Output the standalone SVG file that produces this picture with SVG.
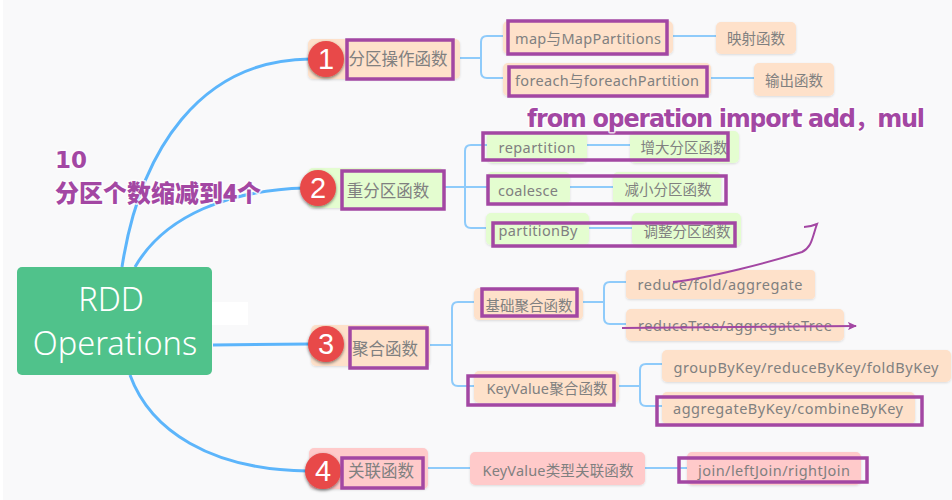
<svg xmlns="http://www.w3.org/2000/svg" width="952" height="500" viewBox="0 0 952 500">
<style>
text{font-family:"Noto Sans","Noto Sans CJK SC",sans-serif}
.l{fill:none;stroke:#8fcbfa;stroke-width:2}
.t{fill:none;stroke:#5cb5fb;stroke-width:3}
.o{fill:#fee1ca;filter:url(#s)}
.g{fill:#e4fdd0;filter:url(#s)}
.p{fill:#ffcaca;filter:url(#s)}
.n{fill:none;stroke:#a347a3;stroke-width:3.5}
.x{fill:#808080;font-size:14.5px;text-anchor:middle}
.b{fill:#808080;font-size:16.5px;text-anchor:middle}
.c{fill:#e84848;filter:url(#d)}
.d{fill:#fff;font-family:"Liberation Sans",sans-serif;font-size:29px;text-anchor:middle}
.v{fill:#a347a3;font-weight:900;stroke:#fff;stroke-opacity:.8;stroke-width:3px;paint-order:stroke;stroke-linejoin:round}
.w{font-family:"DejaVu Sans","Noto Sans CJK SC",sans-serif;font-weight:700}
.r{fill:#fff;font-size:32.5px;font-weight:300;text-anchor:middle}
</style>
<defs>
<filter id="s" x="-10%" y="-20%" width="120%" height="140%"><feDropShadow dx="0" dy="1" stdDeviation="1" flood-color="#000" flood-opacity=".12"/></filter>
<filter id="d" x="-30%" y="-30%" width="160%" height="160%"><feDropShadow dx="0" dy="1.5" stdDeviation="1.5" flood-color="#000" flood-opacity=".5"/></filter>
<marker id="a" markerWidth="10" markerHeight="8" refX="8" refY="4" orient="auto" markerUnits="userSpaceOnUse"><path d="M0 0L9 4L0 8L2 4Z" fill="#a347a3"/></marker>
</defs>
<rect width="952" height="500" fill="#f9f9fa"/>
<rect width="3" height="500" fill="#fff"/>
<rect x="212" y="302" width="36" height="23" fill="#fff"/>
<g id="connectors">
<path class="t" d="M122 267C140 150 200 60 310 59"/>
<path class="t" d="M135 267C165 215 230 190 305 188"/>
<path class="t" d="M213 345L310 344"/>
<path class="t" d="M130 375C150 430 210 470 308 471"/>
<path class="l" d="M460 58H481M503 36H487Q481 36 481 42V72Q481 78 487 78H503"/>
<path class="l" d="M673 36H716M711 78H754"/>
<path class="l" d="M444 187H487M487 145H471Q465 145 465 151V222Q465 228 471 228H487"/>
<path class="l" d="M587 145H630M570 187H613M589 228H632"/>
<path class="l" d="M430 345H452M474 302H458Q452 302 452 308V380Q452 386 458 386H474"/>
<path class="l" d="M583 302H604M626 282H610Q604 282 604 288V318Q604 324 610 324H626"/>
<path class="l" d="M619 386H640M662 364H646Q640 364 640 370V400Q640 406 646 406H662"/>
<path class="l" d="M428 468H470M645 468H687"/>
</g>
<g id="root"><rect x="17" y="267" width="195" height="108" rx="5" fill="#50c28b"/><text class="r" x="111" y="311">RDD</text><text class="r" x="115" y="355">Operations</text></g>
<g id="n1"><rect class="o" x="308" y="39" width="152" height="40" rx="5"/><text class="b" x="398" y="65">分区操作函数</text><circle class="c" cx="326" cy="59" r="18"/><text class="d" x="326" y="69">1</text></g>
<g id="n1a"><rect class="o" x="503" y="21" width="170" height="33" rx="5"/><text class="x" x="588" y="44" textLength="146">map与MapPartitions</text></g>
<g id="n1a1"><rect class="o" x="716" y="22" width="80" height="32" rx="5"/><text class="x" x="756" y="44">映射函数</text></g>
<g id="n1b"><rect class="o" x="503" y="63" width="208" height="33" rx="5"/><text class="x" x="607" y="86" textLength="184">foreach与foreachPartition</text></g>
<g id="n1b1"><rect class="o" x="754" y="63" width="80" height="33" rx="5"/><text class="x" x="794" y="86">输出函数</text></g>
<g id="n2"><rect class="g" x="308" y="168" width="136" height="40" rx="5"/><text class="b" x="388" y="197">重分区函数</text><circle class="c" cx="318" cy="188" r="18"/><text class="d" x="318" y="198">2</text></g>
<g id="n2a"><rect class="g" x="487" y="132" width="100" height="31" rx="5"/><text class="x" x="537" y="153" textLength="77">repartition</text></g>
<g id="n2a1"><rect class="g" x="630" y="131" width="109" height="32" rx="5"/><text class="x" x="684" y="153">增大分区函数</text></g>
<g id="n2b"><rect class="g" x="487" y="172" width="83" height="32" rx="5"/><text class="x" x="528" y="196" textLength="60">coalesce</text></g>
<g id="n2b1"><rect class="g" x="613" y="172" width="108" height="32" rx="5"/><text class="x" x="668" y="195">减小分区函数</text></g>
<g id="n2c"><rect class="g" x="486" y="213" width="103" height="32" rx="5"/><text class="x" x="538" y="236" textLength="79">partitionBy</text></g>
<g id="n2c1"><rect class="g" x="632" y="213" width="109" height="33" rx="5"/><text class="x" x="687" y="237">调整分区函数</text></g>
<g id="n3"><rect class="o" x="311" y="325" width="119" height="41" rx="5"/><text class="b" x="385" y="355">聚合函数</text><circle class="c" cx="326" cy="344" r="18"/><text class="d" x="326" y="354">3</text></g>
<g id="n3a"><rect class="o" x="474" y="288" width="109" height="32" rx="5"/><text class="x" x="529" y="311">基础聚合函数</text></g>
<g id="n3a1"><rect class="o" x="626" y="270" width="189" height="29" rx="4"/><text class="x" x="720" y="290" textLength="165">reduce/fold/aggregate</text></g>
<g id="n3a2"><rect class="o" x="626" y="309" width="218" height="32" rx="5"/><text class="x" x="735" y="331" textLength="194">reduceTree/aggregateTree</text></g>
<g id="n3b"><rect class="o" x="474" y="371" width="145" height="32" rx="5"/><text class="x" x="547" y="394" textLength="121">KeyValue聚合函数</text></g>
<g id="n3b1"><rect class="o" x="662" y="350" width="289" height="32" rx="5"/><text class="x" x="806" y="373" textLength="265">groupByKey/reduceByKey/foldByKey</text></g>
<g id="n3b2"><rect class="o" x="662" y="392" width="253" height="32" rx="5"/><text class="x" x="788" y="414" textLength="230">aggregateByKey/combineByKey</text></g>
<g id="n4"><rect class="p" x="309" y="448" width="119" height="41" rx="5"/><text class="b" x="381" y="477">关联函数</text><circle class="c" cx="323" cy="471" r="18"/><text class="d" x="323" y="481">4</text></g>
<g id="n4a"><rect class="p" x="470" y="452" width="175" height="33" rx="5"/><text class="x" x="558" y="476" textLength="151">KeyValue类型关联函数</text></g>
<g id="n4a1"><rect class="p" x="687" y="452" width="174" height="33" rx="5"/><text class="x" x="774" y="476" textLength="152">join/leftJoin/rightJoin</text></g>
<g id="annotations">
<rect class="n" x="347" y="40" width="106" height="39"/>
<rect class="n" x="508" y="21" width="159" height="33"/>
<rect class="n" x="509" y="67" width="198" height="29"/>
<rect class="n" x="342" y="171" width="102" height="38"/>
<rect class="n" x="483" y="133" width="245" height="27"/>
<rect class="n" x="488" y="176" width="238" height="28"/>
<rect class="n" x="493" y="223" width="242" height="23"/>
<rect class="n" x="350" y="328" width="77" height="40"/>
<rect class="n" x="482" y="289" width="95" height="27"/>
<rect class="n" x="468" y="376" width="146" height="29"/>
<rect class="n" x="657" y="397" width="265" height="28"/>
<rect class="n" x="342" y="458" width="81" height="30"/>
<rect class="n" x="679" y="458" width="188" height="24"/>
<path d="M673 282C710 278 770 262 802 252C812 247 812 238 817 224Q810 227 804 227" fill="none" stroke="#a347a3" stroke-width="2"/>
<path d="M622 328L856 326" fill="none" stroke="#a347a3" stroke-width="2" marker-end="url(#a)"/>
<text class="v w" x="527" y="127" font-size="24" textLength="398">from operation import add，mul</text>
<text class="v w" x="55" y="168" font-size="23">10</text>
<text class="v" x="55" y="202" font-size="24" textLength="206">分区个数缩减到4个</text>
</g>
</svg>
